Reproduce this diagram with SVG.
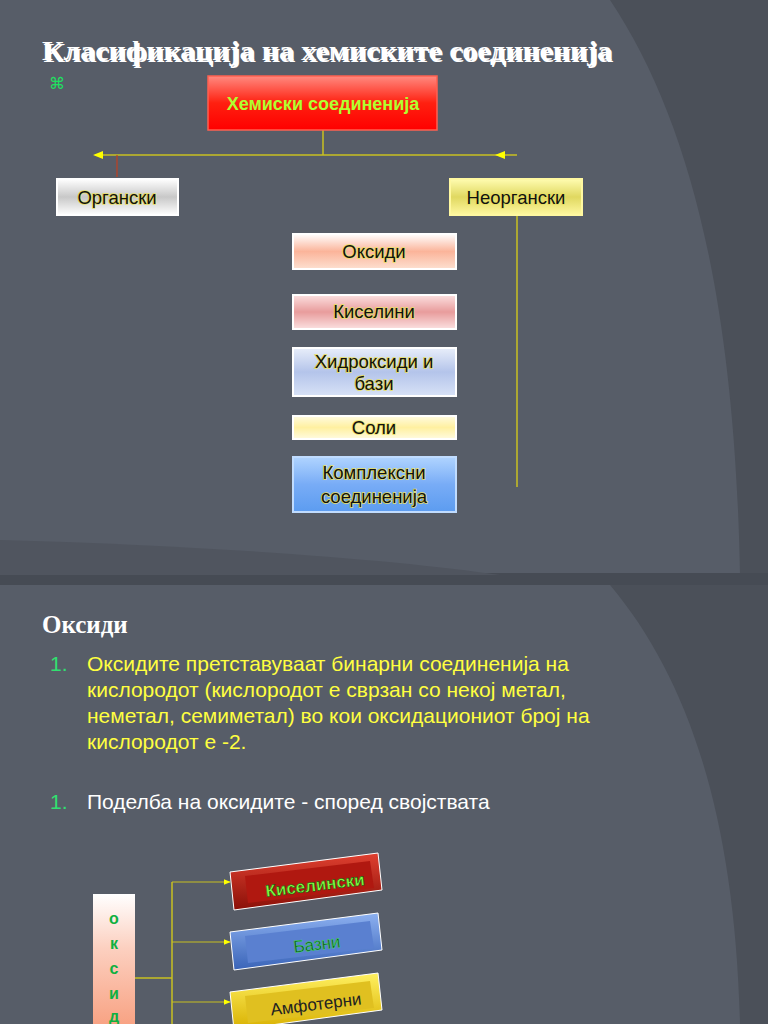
<svg xmlns="http://www.w3.org/2000/svg" width="768" height="1024" viewBox="0 0 768 1024">
<defs>
<linearGradient id="red" x1="0" y1="0" x2="0" y2="1"><stop offset="0" stop-color="#ff8a80"/><stop offset="0.5" stop-color="#ff2010"/><stop offset="1" stop-color="#f00"/></linearGradient>
<linearGradient id="silver" x1="0" y1="0" x2="0" y2="1"><stop offset="0" stop-color="#fff"/><stop offset="0.5" stop-color="#c8c8c8"/><stop offset="1" stop-color="#fff"/></linearGradient>
<linearGradient id="yel" x1="0" y1="0" x2="0" y2="1"><stop offset="0" stop-color="#fffcb0"/><stop offset="0.5" stop-color="#e0d860"/><stop offset="1" stop-color="#fff8a0"/></linearGradient>
<linearGradient id="peach" x1="0" y1="0" x2="0" y2="1"><stop offset="0" stop-color="#fff"/><stop offset="0.5" stop-color="#fbb49a"/><stop offset="1" stop-color="#fde0d0"/></linearGradient>
<linearGradient id="pink" x1="0" y1="0" x2="0" y2="1"><stop offset="0" stop-color="#fce0e0"/><stop offset="0.5" stop-color="#e89c9c"/><stop offset="1" stop-color="#fbe0e0"/></linearGradient>
<linearGradient id="lblue" x1="0" y1="0" x2="0" y2="1"><stop offset="0" stop-color="#e8eefa"/><stop offset="0.5" stop-color="#b4c4ea"/><stop offset="1" stop-color="#d8e2f6"/></linearGradient>
<linearGradient id="lyel" x1="0" y1="0" x2="0" y2="1"><stop offset="0" stop-color="#fffbe0"/><stop offset="0.5" stop-color="#fff0a0"/><stop offset="1" stop-color="#fffbe0"/></linearGradient>
<linearGradient id="blue" x1="0" y1="0" x2="0" y2="1"><stop offset="0" stop-color="#b0d4ff"/><stop offset="0.5" stop-color="#78acf6"/><stop offset="1" stop-color="#5c9cf0"/></linearGradient>
<linearGradient id="vox" x1="0" y1="0" x2="0" y2="1"><stop offset="0" stop-color="#fff"/><stop offset="0.4" stop-color="#fcd0c0"/><stop offset="1" stop-color="#f8a080"/></linearGradient>
<linearGradient id="b3r" x1="0" y1="0" x2="0" y2="1"><stop offset="0" stop-color="#e04030"/><stop offset="1" stop-color="#8a1008"/></linearGradient>
<linearGradient id="b3b" x1="0" y1="0" x2="0" y2="1"><stop offset="0" stop-color="#8cb0f0"/><stop offset="1" stop-color="#3a64b8"/></linearGradient>
<linearGradient id="b3y" x1="0" y1="0" x2="0" y2="1"><stop offset="0" stop-color="#fff060"/><stop offset="1" stop-color="#d8b000"/></linearGradient>
<marker id="ah" viewBox="0 0 10 10" refX="9" refY="5" markerWidth="6" markerHeight="6" orient="auto"><path d="M0,1 L10,5 L0,9 z" fill="#ffff00"/></marker>
<style>
.bx{stroke:#fff;stroke-width:2}
.lb{font-family:"Liberation Sans",Arial,sans-serif;font-size:18.5px;fill:#111;text-anchor:middle;stroke:#e8e060;stroke-width:1.5;paint-order:stroke}
.ttl{font-family:"Liberation Serif","Times New Roman",serif;font-weight:bold;fill:#fff}
.cn{stroke:#c8c020;stroke-width:1.5;fill:none}
.ya{stroke:#ffff40;stroke-width:1.2;fill:none;marker-end:url(#ah)}
.li{font-family:"Liberation Sans",Arial,sans-serif;font-size:21px}
</style>
</defs>
<rect width="768" height="1024" fill="#575d68"/>
<path d="M610,0 L768,0 L768,575 L740,575 C735,300 690,120 610,0 Z" fill="#4b5059"/>
<path d="M610,585 L768,585 L768,1024 L740,1024 C735,820 690,680 610,585 Z" fill="#4b5059"/>
<rect x="0" y="573" width="768" height="12" fill="#464b54"/>
<path d="M0,540 C200,545 400,560 500,575 L0,575 Z" fill="#50555f"/>
<text x="42" y="60" class="ttl" font-size="28" fill="#222" transform="translate(1.5,1.5)" textLength="570" lengthAdjust="spacingAndGlyphs">Класификација на хемиските соединенија</text>
<text x="42" y="60" class="ttl" font-size="28" textLength="570" lengthAdjust="spacingAndGlyphs">Класификација на хемиските соединенија</text>
<text x="49" y="89" font-family="DejaVu Sans,sans-serif" font-size="16" fill="#20e060">⌘</text>
<g id="connectors">
<path class="cn" d="M323,130 V155"/>
<path class="cn" d="M95,155 H517"/>
<path d="M103,151 L93,155 L103,159 Z M505,151 L495,155 L505,159 Z" fill="#ffff00"/>
<path d="M117,155 V177" stroke="#c04020" stroke-width="1.2"/>
<path class="cn" d="M517,215 V487"/>
<path class="ya" d="M456,253 H398"/>
<path class="ya" d="M456,313 H398"/>
<path class="ya" d="M456,373 H384"/>
<path class="ya" d="M456,427 H384"/>
<path class="ya" d="M456,487 H394"/>
<path class="cn" d="M135,978 H172 M172,882 V1024"/>
<path class="ya" style="stroke:#c8c020" d="M172,882 H230"/>
<path class="ya" style="stroke:#c8c020" d="M172,942 H230"/>
<path class="ya" style="stroke:#c8c020" d="M172,1002 H230"/>
</g>
<g id="n-hem"><rect x="208" y="76" width="229" height="54" fill="url(#red)" stroke="#ff6050" stroke-width="1.5"/><text x="323" y="110" font-family="Liberation Sans,Arial,sans-serif" font-weight="bold" font-size="18" fill="#b0ff30" text-anchor="middle">Хемиски соединенија</text></g>
<g id="n-org"><rect x="57" y="179" width="121" height="36" fill="url(#silver)" class="bx" stroke="#dde"/><text x="117" y="204" class="lb">Органски</text></g>
<g id="n-neo"><rect x="450" y="179" width="132" height="36" fill="url(#yel)" stroke="#fff8a0" stroke-width="2"/><text x="516" y="204" class="lb">Неоргански</text></g>
<g id="n-oks"><rect x="293" y="234" width="163" height="35" fill="url(#peach)" class="bx"/><text x="374" y="258" class="lb">Оксиди</text></g>
<g id="n-kis"><rect x="293" y="295" width="163" height="34" fill="url(#pink)" class="bx"/><text x="374" y="318" class="lb">Киселини</text></g>
<g id="n-hid"><rect x="293" y="348" width="163" height="48" fill="url(#lblue)" class="bx"/><text x="374" y="368" class="lb">Хидроксиди и</text><text x="374" y="390" class="lb">бази</text></g>
<g id="n-sol"><rect x="293" y="416" width="163" height="23" fill="url(#lyel)" class="bx"/><text x="374" y="434" class="lb">Соли</text></g>
<g id="n-kom"><rect x="293" y="457" width="163" height="55" fill="url(#blue)" stroke="#c0dcff" stroke-width="2"/><text x="374" y="479" class="lb">Комплексни</text><text x="374" y="503" class="lb">соединенија</text></g>
<text x="42" y="633" class="ttl" font-size="25">Оксиди</text>
<g class="li">
<text x="50" y="671" fill="#30e070">1.</text>
<text x="87" y="671" fill="#ffff40">Оксидите претставуваат бинарни соединенија на</text>
<text x="87" y="697" fill="#ffff40">кислородот (кислородот е сврзан со некој метал,</text>
<text x="87" y="723" fill="#ffff40">неметал, семиметал) во кои оксидациониот број на</text>
<text x="87" y="749" fill="#ffff40">кислородот е -2.</text>
<text x="50" y="809" fill="#30e070">1.</text>
<text x="87" y="809" fill="#fff">Поделба на оксидите - според својствата</text>
</g>
<g id="n-vox"><rect x="93" y="894" width="42" height="135" fill="url(#vox)"/>
<g font-family="Liberation Sans,Arial,sans-serif" font-weight="bold" font-size="16" fill="#10b040" text-anchor="middle"><text x="114" y="924">о</text><text x="114" y="949">к</text><text x="114" y="974">с</text><text x="114" y="999">и</text><text x="114" y="1022">д</text></g></g>
<g id="n-kisl"><polygon points="230,872 378,853 382,890 234,910" fill="url(#b3r)" stroke="#fff" stroke-width="1"/><polygon points="245,876 370,861 374,888 248,903" fill="#b01810"/><text x="315" y="891" transform="rotate(-7 315 885)" font-family="Liberation Sans,Arial,sans-serif" font-weight="bold" font-size="17" fill="#80ff40" stroke="#105010" stroke-width="0.5" text-anchor="middle">Киселински</text></g>
<g id="n-baz"><polygon points="230,932 378,913 382,950 234,970" fill="url(#b3b)" stroke="#fff" stroke-width="1"/><polygon points="245,936 370,921 374,948 248,963" fill="#5a80d0"/><text x="317" y="950" transform="rotate(-7 317 945)" font-family="Liberation Sans,Arial,sans-serif" font-size="17" fill="#104020" stroke="#40e060" stroke-width="0.5" text-anchor="middle">Базни</text></g>
<g id="n-amf"><polygon points="230,992 378,973 382,1010 234,1030" fill="url(#b3y)" stroke="#fff" stroke-width="1"/><polygon points="245,996 370,981 374,1008 248,1023" fill="#e0c020"/><text x="316" y="1010" transform="rotate(-7 316 1005)" font-family="Liberation Sans,Arial,sans-serif" font-size="17" fill="#222" text-anchor="middle">Амфотерни</text></g>
</svg>
